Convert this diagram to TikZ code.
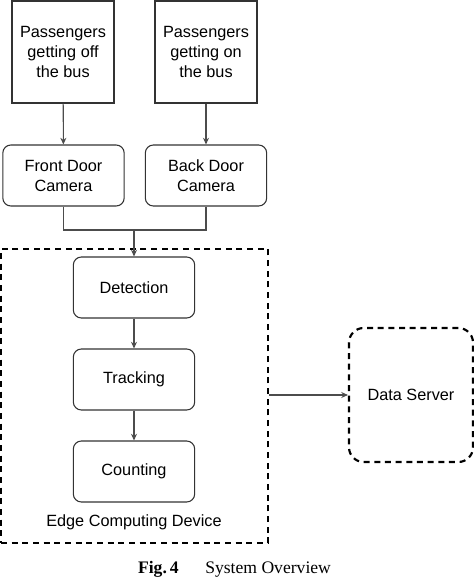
\documentclass[tikz,border=0pt]{standalone}
\usepackage{fontspec}
\setmainfont{Liberation Sans}
\newfontfamily\capfont{Liberation Serif}
\usetikzlibrary{arrows.meta}

\tikzset{
    txt/.style={font=\fontsize{12.2}{15}\selectfont, align=center},
    inbox/.style={txt, draw=black!80, line width=0.8pt, minimum width=76.5pt, minimum height=76.5pt},
    cambox/.style={txt, draw=black!80, line width=0.8pt, rounded corners=6pt, minimum width=91pt, minimum height=45.75pt},
    dashbox/.style={draw=black, line width=1.6pt, dash pattern=on 4.5pt off 3.5pt},
    link/.style={draw=black!70, line width=0.8pt},
    arr/.style={link, -{Stealth[length=5pt, width=4.5pt]}}
}

\begin{document}
\begin{tikzpicture}[x=0.75pt, y=-0.75pt]
    \useasboundingbox (0,0) rectangle (474,578);

    %sources
    \node[inbox] (off) at (63,52) {Passengers\\getting off\\the bus};
    \node[inbox] (on) at (206,52) {Passengers\\getting on\\the bus};

    %cameras
    \node[cambox] (front) at (63.5,175.5) {Front Door\\Camera};
    \node[cambox] (back) at (206,175.5) {Back Door\\Camera};

    %edge device
    \node[dashbox, minimum width=200.25pt, minimum height=220.5pt] (edge) at (134.5,396) {};
    \node[cambox] (detect) at (134,287.5) {Detection};
    \node[cambox] (track) at (134,379.5) {Tracking};
    \node[cambox] (count) at (134,471.5) {Counting};
    \node[txt] (edgelabel) at (134,522) {Edge Computing Device};

    %server
    \node[txt, dashbox, rounded corners=11pt, minimum width=93pt, minimum height=100.5pt] (server) at (411,395) {\fontsize{12.2}{15}\selectfont Data Server};

    %connectors
    \coordinate (join) at (134,230);
    \draw[arr] (off) -- (front);
    \draw[arr] (on) -- (back);
    \draw[link] (front.south) |- (join) -| (back.south);
    \draw[arr] (join) -- (detect.north);
    \draw[arr] (detect) -- (track);
    \draw[arr] (track) -- (count);
    \draw[arr] (edge.east |- server.west) -- (server.west);

    %caption
    \node[anchor=base, font=\capfont\fontsize{13.2}{15}\selectfont] (caption) at (234.5,573) {\textbf{Fig.\,4}\hspace{20pt}System Overview};
\end{tikzpicture}
\end{document}
